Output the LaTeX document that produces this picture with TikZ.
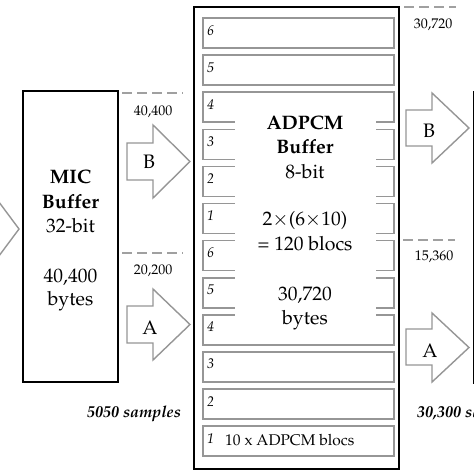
\documentclass[tikz,border=0pt]{standalone}
\usepackage[T1]{fontenc}
\usepackage{mathpazo}
\definecolor{slotgray}{RGB}{150,150,150}
\definecolor{dashgray}{RGB}{160,160,160}
\tikzset{
  bigbox/.style={draw=black,line width=2pt,fill=white},
  slotbox/.style={draw=slotgray,line width=1.6pt},
  blockarrow/.style={draw=slotgray,line width=1.4pt,fill=white,line join=miter},
  dashline/.style={draw=dashgray,line width=1.5pt,dash pattern=on 10pt off 5pt},
  bigtxt/.style={font=\fontsize{19.5}{24}\selectfont,inner sep=0pt,anchor=base},
  bigbold/.style={font=\fontsize{19.5}{24}\selectfont\bfseries,inner sep=0pt,anchor=base},
  smalltxt/.style={font=\fontsize{14}{16}\selectfont,inner sep=0pt,anchor=base},
  blocstxt/.style={font=\fontsize{15.5}{17}\selectfont,inner sep=0pt,anchor=base west},
  numtxt/.style={font=\fontsize{14}{16}\selectfont\itshape,inner sep=0pt,anchor=base west},
  samptxt/.style={font=\fontsize{16}{18}\selectfont\bfseries\itshape,inner sep=0pt,anchor=base},
}
\begin{document}
\begin{tikzpicture}[x=1pt,y=-1pt]
\useasboundingbox (0,0) rectangle (474,474);
\clip (0,0) rectangle (474,474);
\fill[white] (0,0) rectangle (474,474);
% far left arrow (partly visible)
\draw[blockarrow] (-60,212) -- (-10,212) -- (-10,190) -- (19,229) -- (-10,268) -- (-10,247) -- (-60,247) -- cycle;
% MIC buffer
\node[bigbox,minimum width=95pt,minimum height=291pt,inner sep=0pt] (mic) at (70.5,236.5) {};
\node[bigbold] (micA) at (70.5,183) {MIC};
\node[bigbold] (micB) at (70.5,208) {Buffer};
\node[bigtxt] (micC) at (70.5,232) {32-bit};
\node[bigtxt] (micD) at (70.5,282) {40,400};
\node[bigtxt] (micE) at (70.5,305) {bytes};
% dashed markers left
\coordinate (d1a) at (122,93); \coordinate (d1b) at (183,93);
\coordinate (d2a) at (122,253); \coordinate (d2b) at (183,253);
\draw[dashline] (d1a) -- (d1b);
\draw[dashline] (d2a) -- (d2b);
\node[smalltxt] (l40400) at (153,115) {40,400};
\node[smalltxt] (l20200) at (153,274) {20,200};
% left block arrows
\draw[blockarrow] (127,143) -- (153,143) -- (153,125) -- (190,161.5) -- (153,198) -- (153,180) -- (127,180) -- cycle;
\node[bigtxt] (arB) at (149,168) {B};
\draw[blockarrow] (127,306) -- (153,306) -- (153,289) -- (190,324.5) -- (153,360) -- (153,343) -- (127,343) -- cycle;
\node[bigtxt] (arA) at (150,334) {A};
% ADPCM buffer
\node[bigbox,minimum width=205pt,minimum height=462pt,inner sep=0pt] (adpcm) at (296.5,238) {};
\foreach \i in {0,...,11}{
  \pgfmathsetmacro{\top}{18+37.1*\i}
  \pgfmathtruncatemacro{\num}{6-mod(\i,6)}
  \draw[slotbox] (203,\top) rectangle (394,\top+30);
  \node[numtxt] (n\i) at (207,\top+17) {\num};
}
% white background for the central text
\fill[white] (235,119) rectangle (376,331);
\node[bigbold] (adA) at (305,129) {ADPCM};
\node[bigbold] (adB) at (305,153) {Buffer};
\node[bigtxt] (adC) at (305,178) {8-bit};
\node[bigtxt] (adD) at (305,225) {2$\times$(6$\times$10)};
\node[bigtxt] (adE) at (305,250) {= 120 blocs};
\node[bigtxt] (adF) at (305,300) {30,720};
\node[bigtxt] (adG) at (305,324) {bytes};
\node[blocstxt] (blocs) at (225,445) {10 x ADPCM blocs};
% dashed markers right
\coordinate (d3a) at (404,7); \coordinate (d3b) at (456,7);
\coordinate (d4a) at (403,240); \coordinate (d4b) at (455,240);
\draw[dashline] (d3a) -- (d3b);
\draw[dashline] (d4a) -- (d4b);
\node[smalltxt] (l30720) at (433,28) {30,720};
\node[smalltxt] (l15360) at (434,260) {15,360};
% right block arrows
\draw[blockarrow] (406,110) -- (432,110) -- (432,93) -- (469,128) -- (432,163) -- (432,146) -- (406,146) -- cycle;
\node[bigtxt] (arB2) at (429,137) {B};
\draw[blockarrow] (406,329) -- (432,329) -- (432,313) -- (469,347.5) -- (432,382) -- (432,365) -- (406,365) -- cycle;
\node[bigtxt] (arA2) at (430,357) {A};
% right buffer (partly visible)
\node[bigbox,minimum width=95pt,minimum height=291pt,inner sep=0pt,anchor=north west] (rbuf) at (473,91) {};
% sample labels
\node[samptxt] (s5050) at (134,417) {5050 samples};
\node[samptxt,anchor=base west] (s30300) at (417,417) {30,300 samples};
\end{tikzpicture}
\end{document}
